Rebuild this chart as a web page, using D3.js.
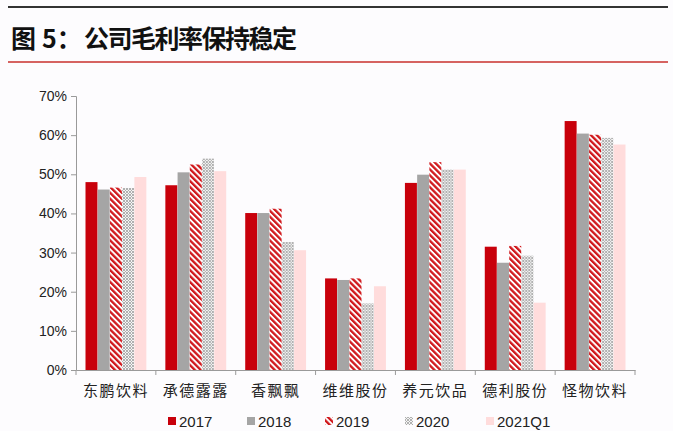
<!DOCTYPE html>
<html>
<head>
<meta charset="utf-8">
<script src="https://cdn.jsdelivr.net/npm/d3@7"></script>
<style>
  body { margin: 0; background: #fdfcfe; }
  svg { display: block; }
</style>
</head>
<body>
<div id="chart"></div>
<script>

var categories = ["东鹏饮料", "承德露露", "香飘飘", "维维股份", "养元饮品", "德利股份", "怪物饮料"];
var seriesNames = ["2017", "2018", "2019", "2020", "2021Q1"];

// gross margin, in %
var v2017 = [48.0, 47.2, 40.1, 23.4, 47.8, 31.5, 63.6];
var v2018 = [46.1, 50.5, 40.1, 23.0, 49.9, 27.4, 60.4];
var v2019 = [46.6, 52.5, 41.2, 23.4, 53.1, 31.7, 60.1];
var v2020 = [46.5, 54.0, 32.7, 17.0, 51.2, 29.2, 59.3];
var v2021Q1 = [49.3, 50.8, 30.6, 21.4, 51.2, 17.2, 57.6];

var yTicks = [0, 10, 20, 30, 40, 50, 60, 70];

var allSeries = [v2017, v2018, v2019, v2020, v2021Q1];

var w = 673, h = 431;

var svg = d3.select("#chart")
	.append("svg")
	.attr("width", w)
	.attr("height", h);

var defs = svg.append("defs");

// red diagonal stripes for 2019
var p19 = defs.append("pattern")
	.attr("id", "stripes")
	.attr("patternUnits", "userSpaceOnUse")
	.attr("width", 4.2)
	.attr("height", 4.2)
	.attr("patternTransform", "rotate(-45)");
p19.append("rect").attr("width", 4.2).attr("height", 4.2).attr("fill", "#fff");
p19.append("rect").attr("width", 2.3).attr("height", 4.2).attr("fill", "#d0181c");

// small grey check for 2020
var p20 = defs.append("pattern")
	.attr("id", "checks")
	.attr("patternUnits", "userSpaceOnUse")
	.attr("width", 3)
	.attr("height", 3);
p20.append("rect").attr("width", 3).attr("height", 3).attr("fill", "#f4f4f4");
p20.append("path").attr("d", "M0,0L3,3M3,0L0,3")
	.attr("stroke", "#a9a9a9").attr("stroke-width", 0.9);

var fills = ["#c8000b", "#a5a5a5", "url(#stripes)", "url(#checks)", "#ffdcdc"];

// title block
svg.append("line")
	.attr("x1", 8).attr("x2", 668).attr("y1", 7).attr("y2", 7)
	.attr("stroke", "#333").attr("stroke-width", 2);

var title = svg.append("text")
	.attr("y", 48)
	.attr("font-family", "Noto Sans CJK SC")
	.attr("font-weight", "bold")
	.attr("font-size", 25)
	.attr("fill", "#111");
title.append("tspan").attr("x", 11).text("图");
title.append("tspan").attr("x", 42).text("5：");
title.append("tspan").attr("x", 84).attr("letter-spacing", -1.5).text("公司毛利率保持稳定");

svg.append("line")
	.attr("x1", 8).attr("x2", 668).attr("y1", 62).attr("y2", 62)
	.attr("stroke", "#c9302c").attr("stroke-width", 1.5);

// scales
var x0 = d3.scaleBand()
	.domain(categories)
	.range([76, 635]);

var x1 = d3.scaleBand()
	.domain(seriesNames)
	.range([9.5, x0.bandwidth() - 9.5])
	.paddingInner(0.02);

var y = d3.scaleLinear()
	.domain([0, 70])
	.range([370, 96]);

// y axis
var yAxis = d3.axisLeft(y)
	.tickValues(yTicks)
	.tickSize(5)
	.tickFormat(d => d + "%");

var gy = svg.append("g")
	.attr("transform", "translate(76,0)")
	.call(yAxis);
gy.select(".domain").attr("stroke", "#9a9a9a");
gy.selectAll(".tick line").attr("stroke", "#9a9a9a");
gy.selectAll(".tick text")
	.attr("x", -9)
	.attr("font-family", "Liberation Sans, Arial, sans-serif")
	.attr("font-size", 14)
	.attr("fill", "#222");

// bars
var groups = svg.append("g")
	.selectAll("g.cat")
	.data(categories)
	.enter()
	.append("g")
	.attr("class", "cat")
	.attr("transform", d => "translate(" + x0(d) + ",0)");

groups.selectAll("rect")
	.data((d, i) => seriesNames.map((s, j) => ({ s: s, v: allSeries[j][i], j: j })))
	.enter()
	.append("rect")
	.attr("x", d => x1(d.s))
	.attr("width", x1.bandwidth())
	.attr("y", d => y(d.v))
	.attr("height", d => y(0) - y(d.v))
	.attr("fill", d => fills[d.j]);

// x axis
var xAxis = d3.axisBottom(x0)
	.tickSize(0)
	.tickFormat("");

var gx = svg.append("g")
	.attr("transform", "translate(0,370)")
	.call(xAxis);
gx.select(".domain").attr("stroke", "#9a9a9a");
gx.selectAll(".tick").remove();

// boundary ticks between categories
var bounds = categories.map(c => x0(c)).concat([x0.range()[1]]);
svg.append("g")
	.selectAll("line")
	.data(bounds)
	.enter()
	.append("line")
	.attr("x1", d => d).attr("x2", d => d)
	.attr("y1", 370).attr("y2", 375)
	.attr("stroke", "#9a9a9a");

svg.append("g")
	.selectAll("text")
	.data(categories)
	.enter()
	.append("text")
	.attr("x", d => x0(d) + x0.bandwidth() / 2)
	.attr("y", 396)
	.attr("text-anchor", "middle")
	.attr("font-family", "Noto Sans CJK SC")
	.attr("font-size", 15)
	.attr("letter-spacing", 1.5)
	.attr("fill", "#222")
	.text(d => d);

// legend
var legendX = [168, 247, 325, 405, 486];
var legend = svg.append("g")
	.selectAll("g")
	.data(seriesNames)
	.enter()
	.append("g")
	.attr("transform", (d, i) => "translate(" + legendX[i] + ",0)");

legend.append("rect")
	.attr("x", 0).attr("y", 417)
	.attr("width", 8).attr("height", 8)
	.attr("fill", (d, i) => fills[i]);

legend.append("text")
	.attr("x", 11)
	.attr("y", 427)
	.attr("font-family", "Liberation Sans, Arial, sans-serif")
	.attr("font-size", 15)
	.attr("fill", "#222")
	.text(d => d);

</script>
</body>
</html>
